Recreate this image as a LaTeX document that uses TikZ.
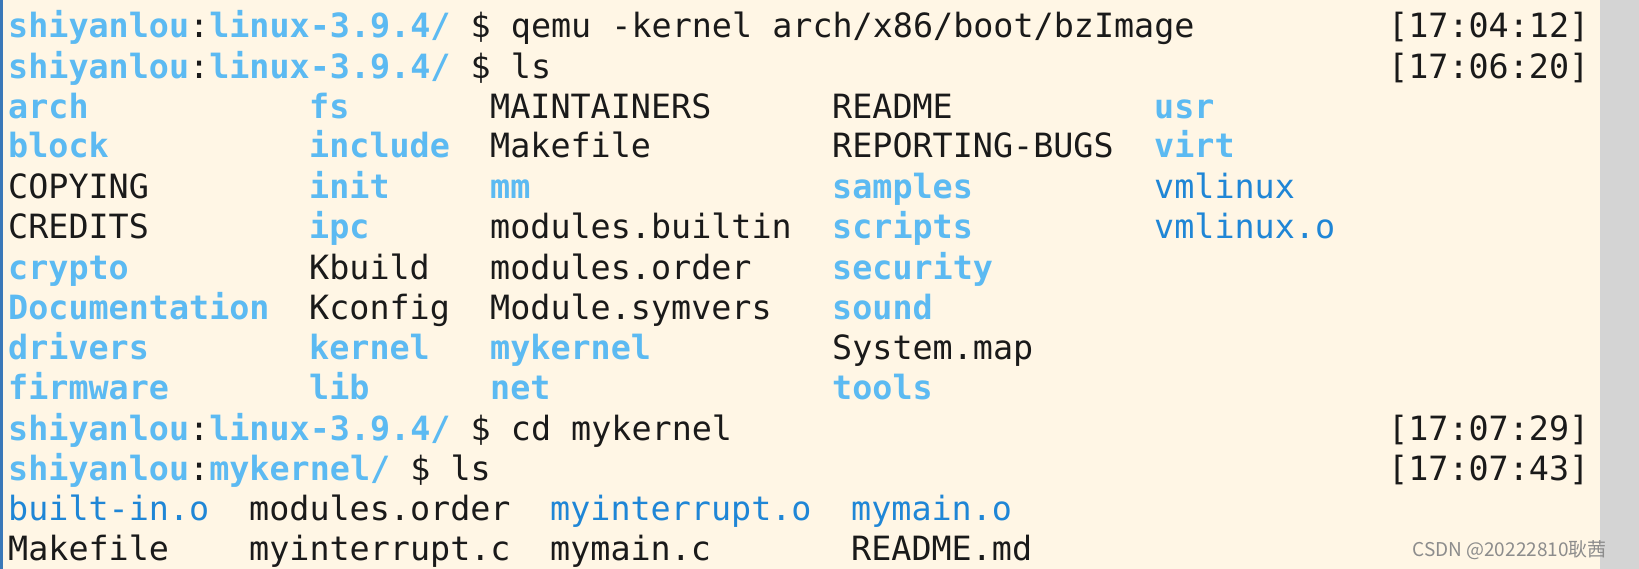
\documentclass[tikz,border=0pt]{standalone}
\usepackage{fontspec}
\setmonofont{DejaVu Sans Mono}
\newfontfamily\wmfont{Noto Sans CJK SC}
\definecolor{bg}{HTML}{FFF6E5}
\definecolor{lb}{HTML}{5CBAF2}
\definecolor{db}{HTML}{1F86D6}
\definecolor{tx}{HTML}{1A1A1A}
\definecolor{bar}{HTML}{3A78B8}
\definecolor{sb}{HTML}{D4D4D4}
\tikzset{
  t/.style={anchor=base west,inner sep=0pt,font=\fontsize{33.4}{40}\ttfamily,text=tx},
  L/.style={t,text=lb,font=\fontsize{33.4}{40}\ttfamily\bfseries},
  D/.style={t,text=db},
}
\newcommand\prm[1]{\textcolor{lb}{\bfseries shiyanlou}\textcolor{tx}{:}\textcolor{lb}{\bfseries #1}}
\begin{document}
\begin{tikzpicture}[x=1pt,y=1pt]
\fill[bg] (0,0) rectangle (1639,569);
\fill[sb] (1600,0) rectangle (1639,569);
\fill[bar] (0,0) rectangle (3,569);
\useasboundingbox (0,0) rectangle (1639,569);
% rows: baseline y = 569 - center - 12
\def\c{20.1}
\node[t] (p1) at (8,531) {\prm{linux-3.9.4/} \$ qemu -kernel arch/x86/boot/bzImage};
\node[t] (ts1) at (1388,531) {[17:04:12]};
\node[t] (p2) at (8,490) {\prm{linux-3.9.4/} \$ ls};
\node[t] (ts2) at (1388,490) {[17:06:20]};
% ls rows
\foreach \y/\a/\sa/\b/\sb/\cc/\sc/\d/\sd/\e/\se [count=\i] in {
 450/arch/L/fs/L/MAINTAINERS/t/README/t/usr/L,
 411/block/L/include/L/Makefile/t/REPORTING-BUGS/t/virt/L,
 370/COPYING/t/init/L/mm/L/samples/L/vmlinux/D,
 330/CREDITS/t/ipc/L/modules.builtin/t/scripts/L/vmlinux.o/D,
 289/crypto/L/Kbuild/t/modules.order/t/security/L/ /t,
 249/Documentation/L/Kconfig/t/Module.symvers/t/sound/L/ /t,
 209/drivers/L/kernel/L/mykernel/L/System.map/t/ /t,
 169/firmware/L/lib/L/net/L/tools/L/ /t}{
  \node[\sa] (a\i) at (8,\y) {\a};
  \node[\sb] (b\i) at (309,\y) {\b};
  \node[\sc] (c\i) at (490,\y) {\cc};
  \node[\sd] (d\i) at (832,\y) {\d};
  \node[\se] (e\i) at (1154,\y) {\e};
}
\node[t] (p3) at (8,128) {\prm{linux-3.9.4/} \$ cd mykernel};
\node[t] (ts3) at (1388,128) {[17:07:29]};
\node[t] (p4) at (8,88) {\prm{mykernel/} \$ ls};
\node[t] (ts4) at (1388,88) {[17:07:43]};
\node[D] (f1) at (8,48) {built-in.o};
\node[t] (f2) at (249,48) {modules.order};
\node[D] (f3) at (550,48) {myinterrupt.o};
\node[D] (f4) at (851,48) {mymain.o};
\node[t] (g1) at (8,8) {Makefile};
\node[t] (g2) at (249,8) {myinterrupt.c};
\node[t] (g3) at (550,8) {mymain.c};
\node[t] (g4) at (851,8) {README.md};
\node[anchor=base east,inner sep=0pt,text=black!45,font=\fontsize{19}{22}\wmfont] (wm) at (1607,12) {CSDN @20222810耿茜};
\end{tikzpicture}
\end{document}
